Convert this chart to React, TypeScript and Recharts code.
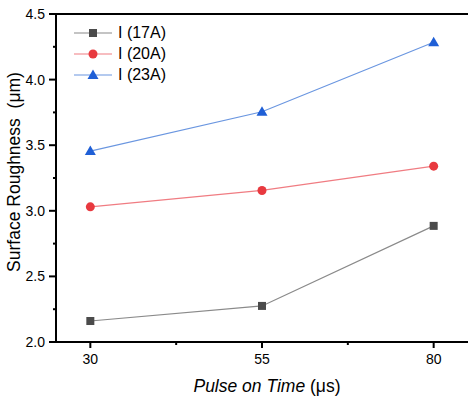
import React from 'react';
import { LineChart, Line, XAxis, YAxis } from 'recharts';

const pulseOnTime = [30, 55, 80];
const rough17A = [2.16, 2.275, 2.885];
const rough20A = [3.03, 3.155, 3.34];
const rough23A = [3.455, 3.755, 4.285];
const xTicks = [30, 42.5, 55, 67.5, 80];
const xMajor = [30, 55, 80];
const yTicks = [2.0, 2.25, 2.5, 2.75, 3.0, 3.25, 3.5, 3.75, 4.0, 4.25, 4.5];
const yMajor = [2.0, 2.5, 3.0, 3.5, 4.0, 4.5];
const seriesNames = ['I (17A)', 'I (20A)', 'I (23A)'];
const xTitleItalic = 'Pulse on Time';
const xTitleUnit = ' (μs)';
const yTitle = 'Surface Roughness  (μm)';

const data = pulseOnTime.map((t, i) => ({ t, a: rough17A[i], b: rough20A[i], c: rough23A[i] }));

const FONT = '"Liberation Sans", Arial, sans-serif';

const XTick = (props: any) => {
  const { x, y, payload } = props;
  const major = xMajor.includes(payload.value);
  return (
    <g>
      <line x1={x} x2={x} y1={y - 1} y2={y + (major ? 6 : 3)} stroke="#000" strokeWidth={2} />
      {major && (
        <text x={x} y={y + 22} textAnchor="middle" fontSize={14} fontFamily={FONT} fill="#000">
          {payload.value}
        </text>
      )}
    </g>
  );
};

const YTick = (props: any) => {
  const { x, y, payload } = props;
  const major = yMajor.includes(payload.value);
  return (
    <g>
      <line x1={x + 1} x2={x - (major ? 7 : 3)} y1={y} y2={y} stroke="#000" strokeWidth={2} />
      {major && (
        <text x={x - 11} y={y + 5} textAnchor="end" fontSize={14} fontFamily={FONT} fill="#000">
          {payload.value.toFixed(1)}
        </text>
      )}
    </g>
  );
};

const Square = (props: any) => {
  const { cx, cy } = props;
  return <rect x={cx - 4} y={cy - 4} width={8} height={8} fill="#4b4b4b" />;
};
const Dot = (props: any) => {
  const { cx, cy } = props;
  return <circle cx={cx} cy={cy} r={4.5} fill="#e8393f" />;
};
const Tri = (props: any) => {
  const { cx, cy } = props;
  return <polygon points={`${cx},${cy - 5.5} ${cx + 5.5},${cy + 4} ${cx - 5.5},${cy + 4}`} fill="#1f5fd6" />;
};

const legendItems = [
  { name: seriesNames[0], line: '#8a8a8a', marker: 'sq' },
  { name: seriesNames[1], line: '#f07c82', marker: 'ci' },
  { name: seriesNames[2], line: '#6a96e0', marker: 'tr' },
];

export default function App() {
  return (
    <div style={{ position: 'absolute', left: 0, top: 0, width: 474, height: 399, background: '#fff' }}>
      <LineChart width={474} height={399} data={data} margin={{ top: 0, right: 6, bottom: 0, left: 0 }}>
        <XAxis
          dataKey="t"
          type="number"
          domain={[25, 85]}
          ticks={xTicks}
          interval={0}
          height={57}
          tickSize={0}
          tickMargin={0}
          axisLine={{ stroke: '#000', strokeWidth: 2 }}
          tickLine={false}
          tick={<XTick />}
        />
        <XAxis xAxisId="top" orientation="top" dataKey="t" type="number" domain={[25, 85]} height={14} axisLine={{ stroke: '#000', strokeWidth: 2 }} tickLine={false} tick={false} />
        <YAxis
          type="number"
          domain={[2, 4.5]}
          ticks={yTicks}
          interval={0}
          width={56}
          tickSize={0}
          tickMargin={0}
          axisLine={{ stroke: '#000', strokeWidth: 2 }}
          tickLine={false}
          tick={<YTick />}
        />
        <YAxis yAxisId="right" orientation="right" type="number" domain={[2, 4.5]} width={0} axisLine={{ stroke: '#000', strokeWidth: 2 }} tickLine={false} tick={false} />
        <Line dataKey="a" stroke="#8a8a8a" strokeWidth={1.2} dot={<Square />} isAnimationActive={false} />
        <Line dataKey="b" stroke="#f07c82" strokeWidth={1.2} dot={<Dot />} isAnimationActive={false} />
        <Line dataKey="c" stroke="#6a96e0" strokeWidth={1.2} dot={<Tri />} isAnimationActive={false} />
      </LineChart>
      <svg width={474} height={399} style={{ position: 'absolute', left: 0, top: 0, pointerEvents: 'none' }}>
        <text x={267} y={392} textAnchor="middle" fontSize={17.5} fontFamily={FONT} fill="#000">
          <tspan fontStyle="italic">{xTitleItalic}</tspan>
          <tspan>{xTitleUnit}</tspan>
        </text>
        <text
          x={20}
          y={172}
          textAnchor="middle"
          fontSize={17.5}
          fontFamily={FONT}
          fill="#000"
          xmlSpace="preserve"
          style={{ whiteSpace: 'pre' }}
          transform="rotate(-90 20 172)"
        >
          {yTitle}
        </text>
      </svg>
      <div style={{ position: 'absolute', left: 74, top: 22, fontFamily: FONT, fontSize: 16 }}>
        {legendItems.map((it) => (
          <div key={it.name} style={{ display: 'flex', alignItems: 'center', height: 21 }}>
            <svg width={40} height={14}>
              <line x1={0} x2={38} y1={7} y2={7} stroke={it.line} strokeWidth={1.2} />
              {it.marker === 'sq' && <rect x={15} y={3} width={8} height={8} fill="#4b4b4b" />}
              {it.marker === 'ci' && <circle cx={19} cy={7} r={4.5} fill="#e8393f" />}
              {it.marker === 'tr' && <polygon points="19,1.5 24.5,11 13.5,11" fill="#1f5fd6" />}
            </svg>
            <span style={{ marginLeft: 4 }}>{it.name}</span>
          </div>
        ))}
      </div>
    </div>
  );
}
